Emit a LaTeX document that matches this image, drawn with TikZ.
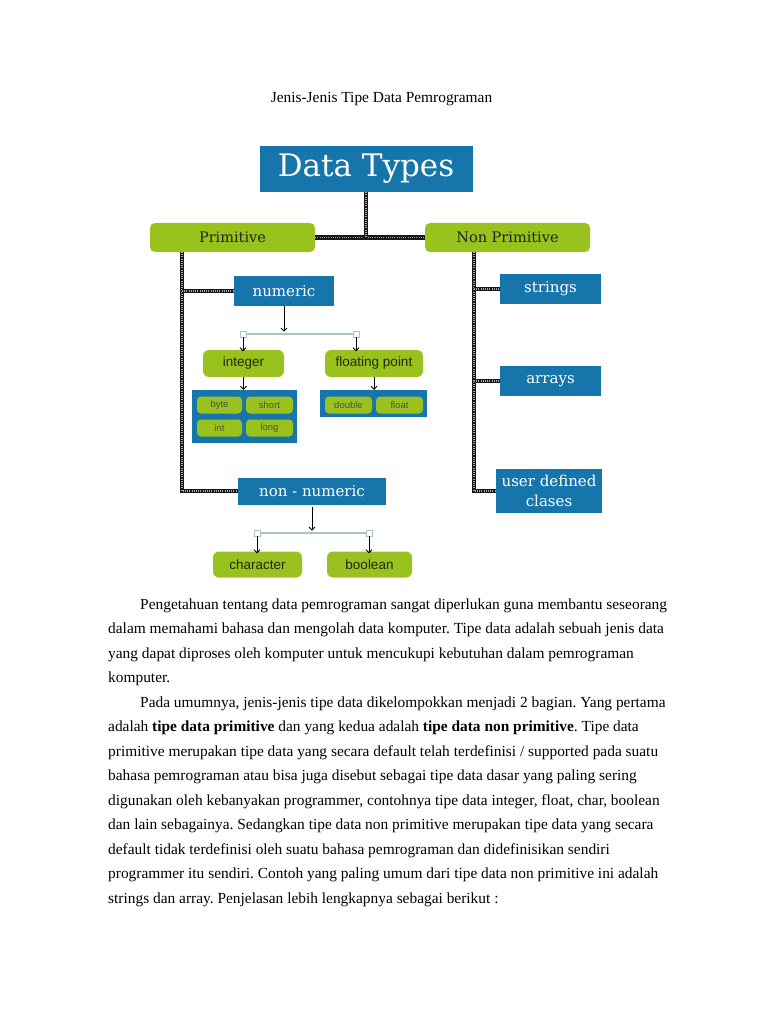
\documentclass[tikz,border=0pt]{standalone}
\usepackage{fontspec}
\setmainfont{Liberation Serif}
\newfontfamily\slab{DejaVu Serif}
\newfontfamily\sansf{Liberation Sans}
\usetikzlibrary{arrows.meta}
\definecolor{dtblue}{RGB}{22,117,170}
\definecolor{dtgreen}{RGB}{153,194,30}
\definecolor{dtdark}{RGB}{30,40,15}
\definecolor{sqgray}{RGB}{170,195,198}
\tikzset{
  bluebox/.style={fill=dtblue, text=white, inner sep=0pt, font=\slab\fontsize{15}{17}\selectfont, align=center},
  greenhead/.style={fill=dtgreen, rounded corners=5pt, text=dtdark, inner sep=0pt, font=\slab\fontsize{14.5}{16}\selectfont},
  greenbox/.style={fill=dtgreen, rounded corners=6pt, text=dtdark, inner sep=0pt, font=\sansf\fontsize{13.5}{15}\selectfont},
  greensmall/.style={fill=dtgreen, rounded corners=4pt, text=dtdark!80, inner sep=0pt, font=\sansf\fontsize{9.5}{11}\selectfont, minimum height=17pt},
  groupbox/.style={fill=dtblue, inner sep=0pt},
  ladder/.style={line width=4.5pt, draw=black!90, postaction={draw=black!35, line width=1.6pt, dash pattern=on 1pt off 1.2pt}},
  thinline/.style={draw=sqgray, line width=1.3pt},
  sq/.style={draw=sqgray, fill=white, line width=0.8pt, minimum size=6pt, inner sep=0pt},
  arr/.style={draw=black, line width=0.8pt, -{Straight Barb[length=3pt,width=6pt]}},
  para/.style={anchor=base west, inner sep=0pt, font=\fontsize{15.4}{18}\selectfont}
}
\frenchspacing
\begin{document}
\begin{tikzpicture}[x=1pt,y=-1pt]
\fill[white] (0,0) rectangle (768,1024);
\useasboundingbox (0,0) rectangle (768,1024);

\node[anchor=base, inner sep=0pt, font=\fontsize{15.4}{18}\selectfont] (title) at (381.5,103) {Jenis-Jenis Tipe Data Pemrograman};

% main boxes
\node[bluebox, minimum width=213pt, minimum height=46pt, font=\slab\fontsize{31}{34}\selectfont] (dt) at (366,169) {Data Types};
\node[greenhead, minimum width=165pt, minimum height=29pt] (prim) at (232.5,237.5) {Primitive};
\node[greenhead, minimum width=165pt, minimum height=29pt] (nprim) at (507.5,237.5) {Non Primitive};

\node[bluebox, minimum width=100pt, minimum height=30pt] (num) at (284,291) {numeric};
\node[greenbox, minimum width=81pt, minimum height=27pt] (int) at (243.5,363.5) {integer};
\node[greenbox, minimum width=98pt, minimum height=27pt] (flt) at (374,363.5) {floating point};

\node[groupbox, minimum width=105pt, minimum height=53pt] (g1) at (244.5,416.5) {};
\node[greensmall, minimum width=45pt] (byte) at (219.5,405) {byte};
\node[greensmall, minimum width=47pt] (short) at (269.5,405) {short};
\node[greensmall, minimum width=45pt] (intt) at (219.5,428) {int};
\node[greensmall, minimum width=47pt] (long) at (269.5,428) {long};

\node[groupbox, minimum width=107pt, minimum height=27pt] (g2) at (373.5,403.5) {};
\node[greensmall, minimum width=47pt] (dbl) at (348.5,405) {double};
\node[greensmall, minimum width=47pt] (flo) at (399.5,405) {float};

\node[bluebox, minimum width=148pt, minimum height=27pt] (nnum) at (312,491) {non - numeric};
\node[greenbox, minimum width=89pt, minimum height=26pt] (chr) at (257.5,564.5) {character};
\node[greenbox, minimum width=85pt, minimum height=26pt] (bool) at (369.5,564.5) {boolean};

\node[bluebox, minimum width=101pt, minimum height=30pt] (str) at (550.5,289) {strings};
\node[bluebox, minimum width=101pt, minimum height=30pt] (arr) at (550.5,381) {arrays};
\node[bluebox, minimum width=106pt, minimum height=44pt, font=\slab\fontsize{15}{20}\selectfont] (udc) at (549,491) {user defined\\clases};

% ladder connectors
\coordinate (pv) at (182,252);
\coordinate (npv) at (474,252);
\draw[ladder] (prim.east) -- (nprim.west);
\draw[ladder] (dt.south) -- (dt.south |- prim.east);
\draw[ladder] (pv) |- (nnum.west);
\draw[ladder] (pv |- num.west) -- (num.west);
\draw[ladder] (npv) |- (udc.west);
\draw[ladder] (npv |- str.west) -- (str.west);
\draw[ladder] (npv |- arr.west) -- (arr.west);

% numeric split
\node[sq] (sqa) at (243,334) {};
\node[sq] (sqb) at (356,334) {};
\draw[thinline] (sqa.east) -- (sqb.west);
\draw[arr] (num.south) -- ([yshift=-1pt]num.south |- sqa.north);
\draw[arr] (sqa.south) -- ([yshift=-1.5pt]sqa.south |- int.north);
\draw[arr] (sqb.south) -- ([yshift=-1.5pt]sqb.south |- flt.north);
\draw[arr] (int.south) -- (int.south |- g1.north);
\draw[arr] (flt.south) -- (flt.south |- g2.north);

% non-numeric split
\node[sq] (sqc) at (257,533) {};
\node[sq] (sqd) at (369,533) {};
\draw[thinline] (sqc.east) -- (sqd.west);
\draw[arr] ([yshift=-2pt]nnum.south) -- ([yshift=-1pt]nnum.south |- sqc.north);
\draw[arr] (sqc.south) -- ([yshift=-2pt]sqc.south |- chr.north);
\draw[arr] (sqd.south) -- ([yshift=-2pt]sqd.south |- bool.north);

% paragraphs
\node[para] (l1) at (140,609) {Pengetahuan tentang data pemrograman sangat diperlukan guna membantu seseorang};
\node[para] (l2) at (108,633.5) {dalam memahami bahasa dan mengolah data komputer. Tipe data adalah sebuah jenis data};
\node[para] (l3) at (108,658) {yang dapat diproses oleh komputer untuk mencukupi kebutuhan dalam pemrograman};
\node[para] (l4) at (108,682.5) {komputer.};
\node[para] (l5) at (140,707) {Pada umumnya, jenis-jenis tipe data dikelompokkan menjadi 2 bagian. Yang pertama};
\node[para] (l6) at (108,731.5) {adalah \textbf{tipe data primitive} dan yang kedua adalah \textbf{tipe data non primitive}. Tipe data};
\node[para] (l7) at (108,756) {primitive merupakan tipe data yang secara default telah terdefinisi / supported pada suatu};
\node[para] (l8) at (108,780.5) {bahasa pemrograman atau bisa juga disebut sebagai tipe data dasar yang paling sering};
\node[para] (l9) at (108,805) {digunakan oleh kebanyakan programmer, contohnya tipe data integer, float, char, boolean};
\node[para] (l10) at (108,829.5) {dan lain sebagainya. Sedangkan tipe data non primitive merupakan tipe data yang secara};
\node[para] (l11) at (108,854) {default tidak terdefinisi oleh suatu bahasa pemrograman dan didefinisikan sendiri};
\node[para] (l12) at (108,878.5) {programmer itu sendiri. Contoh yang paling umum dari tipe data non primitive ini adalah};
\node[para] (l13) at (108,903) {strings dan array. Penjelasan lebih lengkapnya sebagai berikut :};
\end{tikzpicture}
\end{document}
